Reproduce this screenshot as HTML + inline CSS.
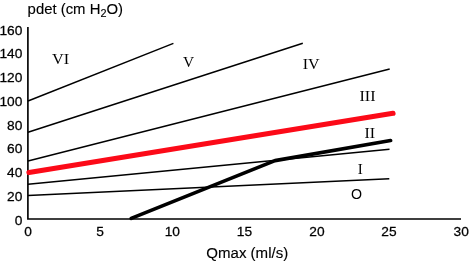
<!DOCTYPE html>
<html><head><meta charset="utf-8">
<style>
html,body{margin:0;padding:0;background:#fff;}
svg{display:block}
text{font-family:"Liberation Sans",sans-serif;fill:#000;stroke:#000;stroke-width:0.25px}
.s text{font-family:"Liberation Serif",serif;stroke:none}
.t text{stroke-width:0.12px}
</style></head><body>
<svg width="470" height="262" viewBox="0 0 470 262">
<rect width="470" height="262" fill="#fff"/>
<g stroke="#000" stroke-width="1.45" fill="none">
<line x1="28" y1="101" x2="173.4" y2="43.3"/>
<line x1="28" y1="132.3" x2="302.8" y2="43.3"/>
<line x1="28" y1="161" x2="389.7" y2="69"/>
<line x1="28" y1="184.3" x2="389.5" y2="149.3"/>
<line x1="28" y1="195.5" x2="389.3" y2="178.7"/>
</g>
<polyline points="27.9,27 27.9,219 461,219" stroke="#000" stroke-width="1.65" fill="none"/>
<line x1="29" y1="172.5" x2="393" y2="113.3" stroke="#fc0a18" stroke-width="5.2" stroke-linecap="round"/>
<polyline points="131.2,218.4 275,160.6 390.6,140.5" stroke="#000" stroke-width="3.7" fill="none" stroke-linecap="round" stroke-linejoin="round"/>
<g font-size="14.5" class="t">
<text transform="translate(27.60 13.50) scale(1.0275 1)">pdet (cm H<tspan font-size="10.6" dy="3.4">2</tspan><tspan dy="-3.4">O)</tspan></text>
<text transform="translate(206.30 258.20) scale(1.0388 1)">Qmax (ml/s)</text>
</g>
<g font-size="13.1">
<text transform="translate(-0.59 34.50) scale(1.0500 1)">160</text>
<text transform="translate(-0.59 58.30) scale(1.0500 1)">140</text>
<text transform="translate(-0.59 82.00) scale(1.0500 1)">120</text>
<text transform="translate(-0.59 105.80) scale(1.0500 1)">100</text>
<text transform="translate(7.05 129.60) scale(1.0500 1)">80</text>
<text transform="translate(7.05 153.40) scale(1.0500 1)">60</text>
<text transform="translate(7.05 177.10) scale(1.0500 1)">40</text>
<text transform="translate(7.05 200.90) scale(1.0500 1)">20</text>
<text transform="translate(14.70 224.80) scale(1.0500 1)">0</text>
<text transform="translate(24.18 236.00) scale(1.0500 1)">0</text>
<text transform="translate(96.18 236.00) scale(1.0500 1)">5</text>
<text transform="translate(164.65 236.00) scale(1.0500 1)">10</text>
<text transform="translate(236.85 236.00) scale(1.0500 1)">15</text>
<text transform="translate(309.35 236.00) scale(1.0500 1)">20</text>
<text transform="translate(381.35 236.00) scale(1.0500 1)">25</text>
<text transform="translate(453.55 236.00) scale(1.0500 1)">30</text>
</g>
<g font-size="15" class="s">
<text transform="translate(51.90 63.50) scale(1.0866 1)">VI</text>
<text transform="translate(183.10 66.50) scale(1.0280 1)">V</text>
<text transform="translate(302.70 69.00) scale(1.0677 1)">IV</text>
<text transform="translate(359.50 101.00) scale(1.0733 1)">III</text>
<text transform="translate(364.50 138.00) scale(1.0600 1)">II</text>
<text transform="translate(357.80 174.40) scale(1.0000 1)">I</text>
</g>
<text x="356.6" y="198.7" font-size="14.2" text-anchor="middle" style="stroke:none">O</text>
</svg>
</body></html>
